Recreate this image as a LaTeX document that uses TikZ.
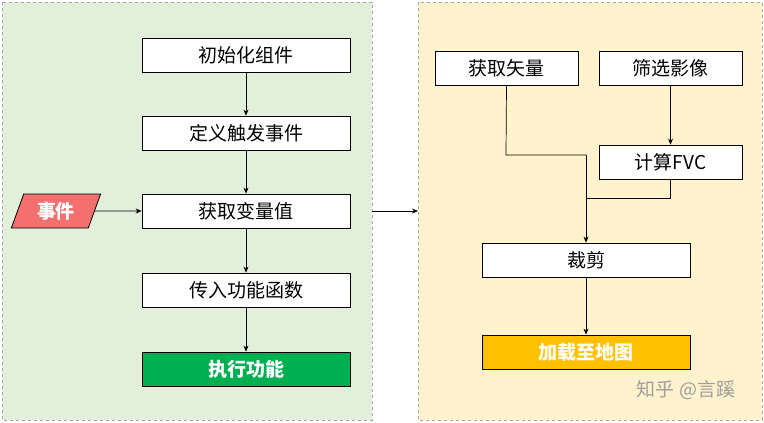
\documentclass[tikz,border=0pt]{standalone}
\usepackage{fontspec}
\setmainfont{Noto Sans CJK SC}
\usetikzlibrary{shapes.geometric,arrows.meta}
\definecolor{lgreen}{HTML}{E2EFDA}
\definecolor{lyellow}{HTML}{FFF2CC}
\definecolor{fgreen}{HTML}{00B050}
\definecolor{forange}{HTML}{FFC000}
\definecolor{fred}{HTML}{F4706E}
\begin{document}
\begin{tikzpicture}[x=1pt,y=-1pt,
  panel/.style={draw=gray!70,dashed,line width=0.8pt},
  box/.style={draw=black,line width=0.8pt,fill=white,minimum height=34pt,inner sep=0pt,font=\fontsize{19}{19}\selectfont},
  bbox/.style={box,text=white,font=\fontsize{19}{19}\selectfont\bfseries},
  arr/.style={-{Stealth[length=6pt,width=5pt]},line width=0.7pt},
  ln/.style={line width=0.7pt}]
\useasboundingbox (0,0) rectangle (764,423);
\draw[panel,fill=lgreen] (2,2) rectangle (372,420);
\draw[panel,fill=lyellow] (418,2) rectangle (762,420);
\node[box,minimum width=208pt] (a1) at (246,55) {初始化组件};
\node[box,minimum width=208pt] (a2) at (246,133) {定义触发事件};
\node[box,minimum width=208pt] (a3) at (246,211) {获取变量值};
\node[box,minimum width=208pt] (a4) at (246,290) {传入功能函数};
\node[bbox,minimum width=208pt,fill=fgreen] (a5) at (246,369) {执行功能};
\node[trapezium,trapezium left angle=70,trapezium right angle=110,draw=black,line width=0.8pt,fill=fred,text=white,minimum height=34pt,minimum width=84pt,inner sep=2pt,font=\fontsize{19}{19}\selectfont\bfseries] (ev) at (56,211) {事件};
\draw[arr] (a1) -- (a2);
\draw[arr] (a2) -- (a3);
\draw[arr] (a3) -- (a4);
\draw[arr] (a4) -- (a5);
\draw[arr] (ev) -- (a3);
\coordinate (lp) at (372,211);
\coordinate (rp) at (418,211);
\draw[arr] (lp) -- (rp);
\node[box,minimum width=143pt] (b1) at (506.5,68) {获取矢量};
\node[box,minimum width=143pt] (b2) at (670.5,68) {筛选影像};
\node[box,minimum width=143pt] (b3) at (670.5,162) {计算FVC};
\node[box,minimum width=208pt] (b4) at (586,260) {裁剪};
\node[bbox,minimum width=208pt,fill=forange] (b5) at (586,352) {加载至地图};
\draw[arr] (b2) -- (b3);
\draw[ln] (b1.south) -- (506,155) -- (586,155);
\draw[ln] (b3.south) -- (670.5,198) -- (586,198);
\draw[arr] (586,155) -- (b4.north);
\draw[arr] (b4) -- (b5);
\node[text=gray!75,font=\fontsize{19}{19}\selectfont] (wm) at (686,390) {知乎 @言蹊};
\end{tikzpicture}
\end{document}
